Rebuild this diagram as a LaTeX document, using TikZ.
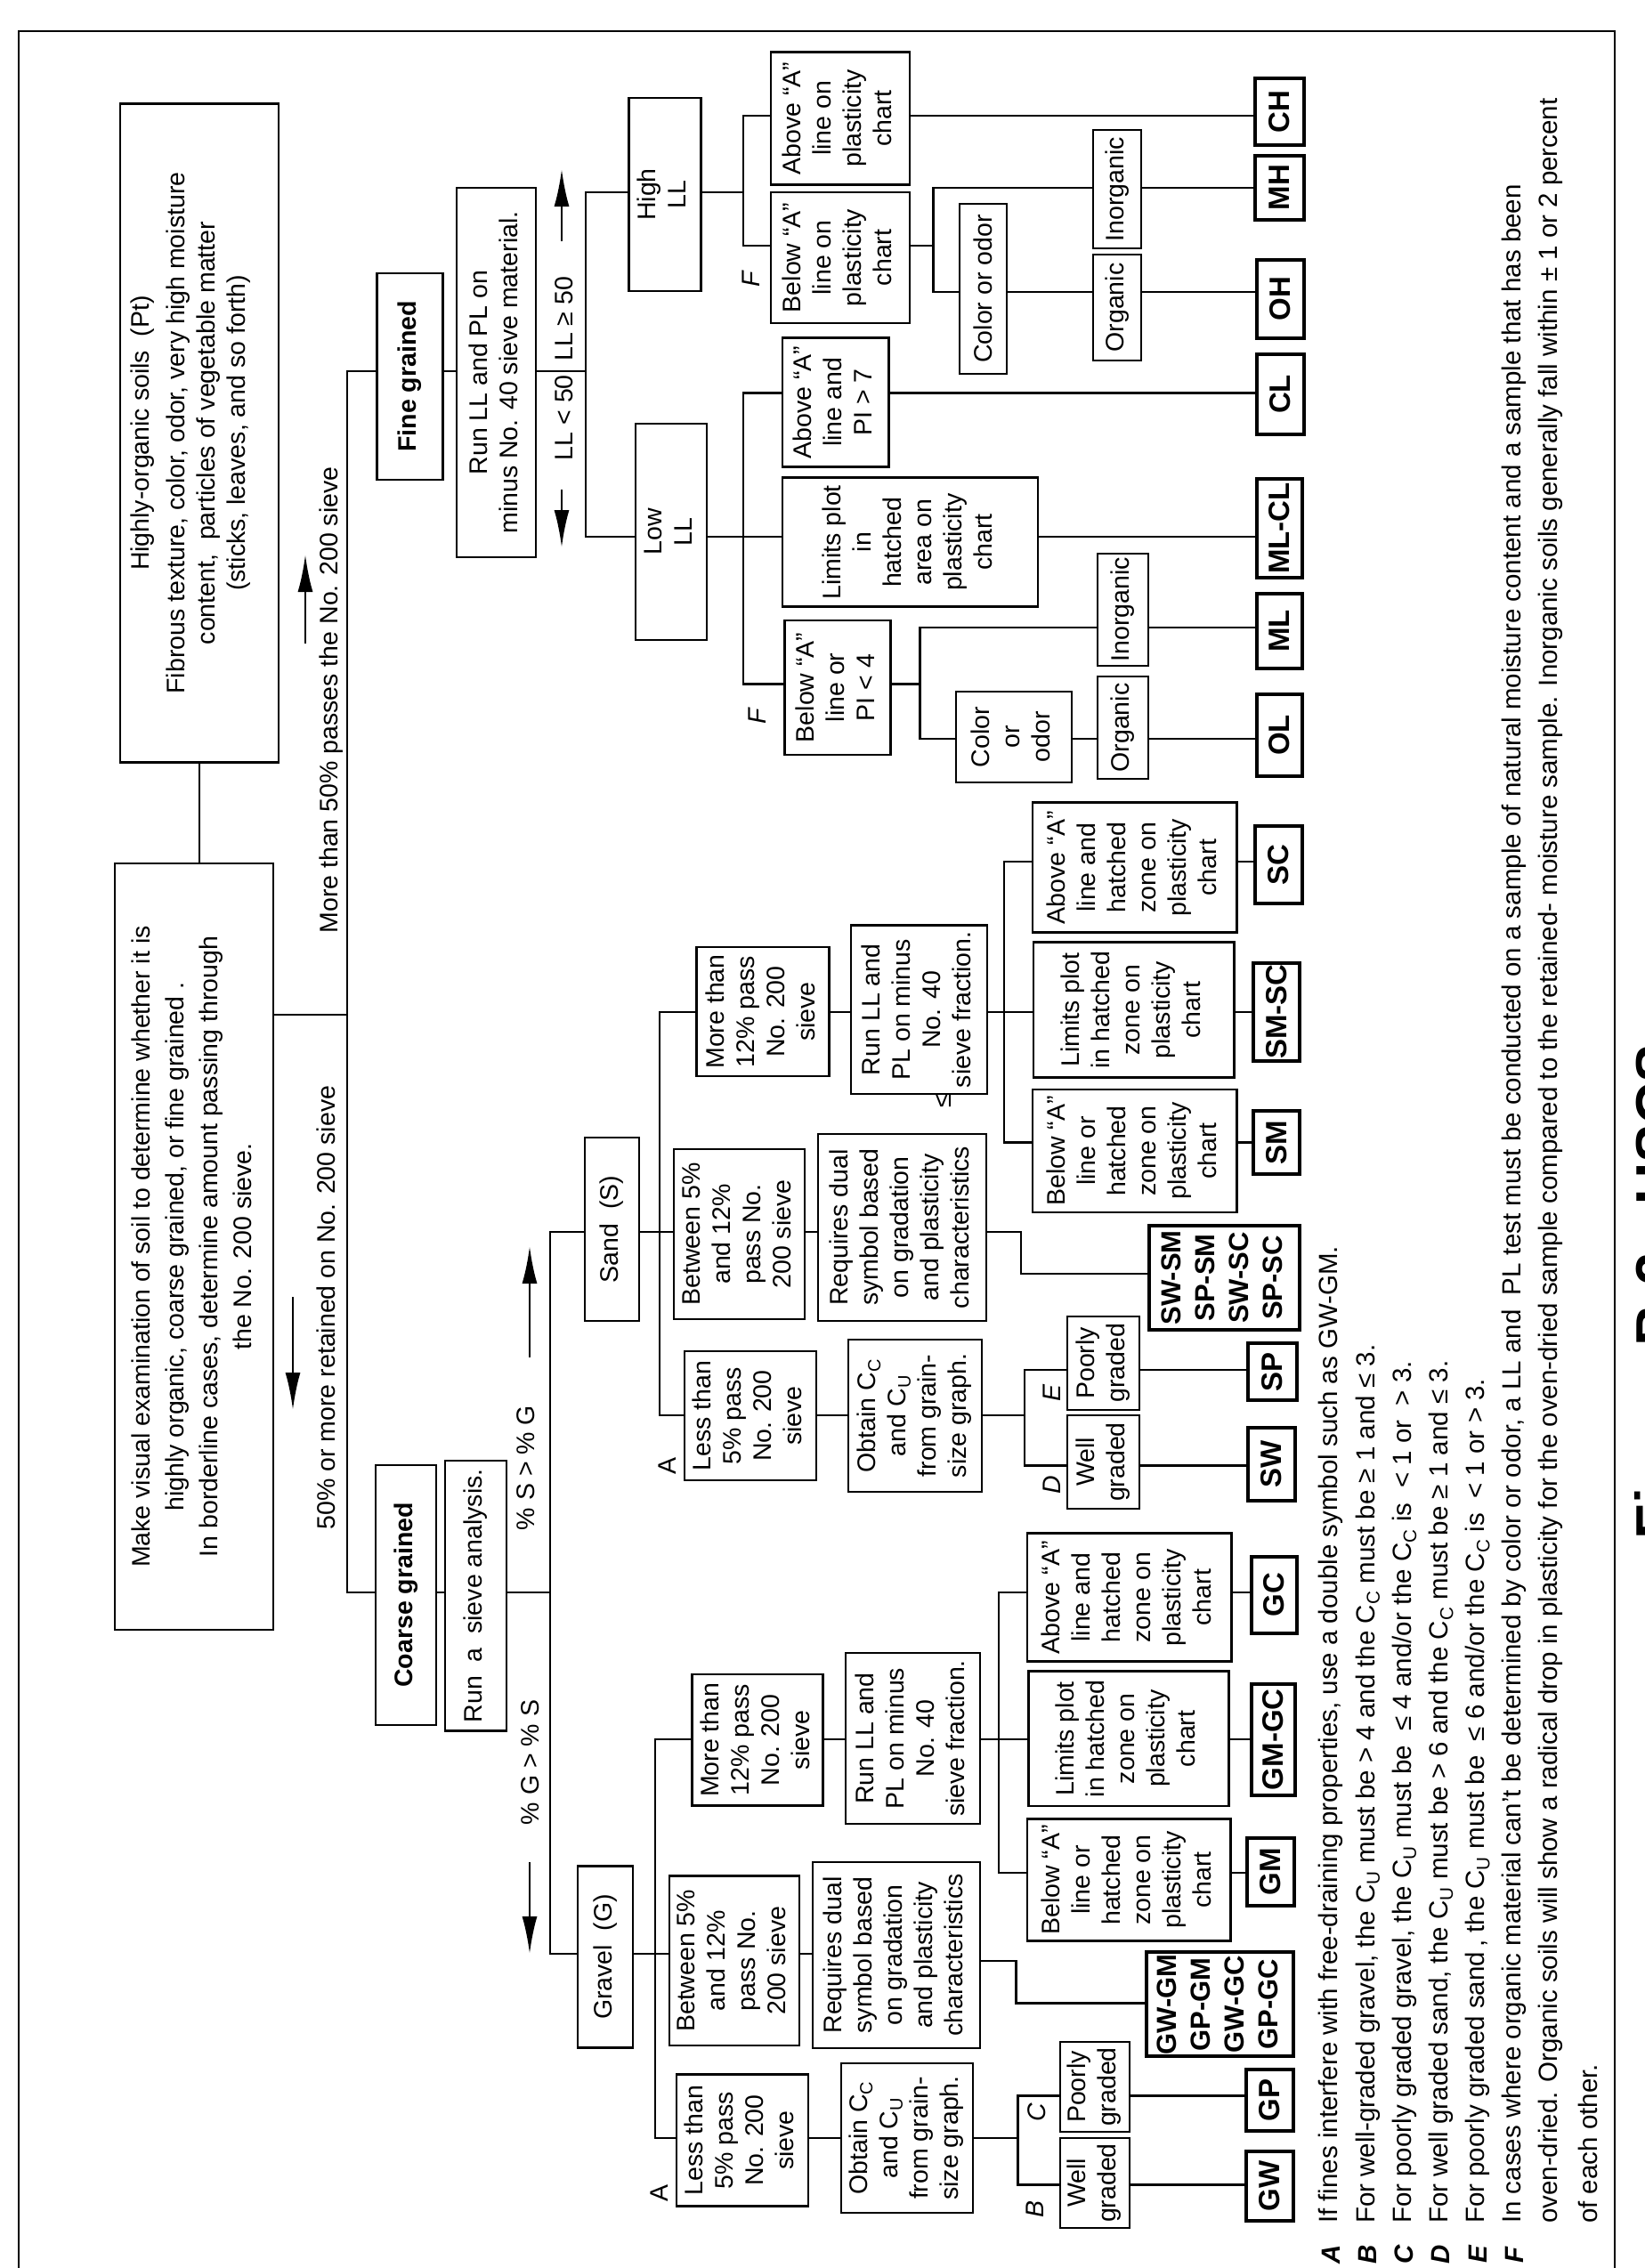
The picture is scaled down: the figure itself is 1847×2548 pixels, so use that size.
\documentclass[tikz,border=0pt]{standalone}
\usepackage{fontspec}
\setmainfont{Liberation Sans}
\usepackage{graphicx}
\usetikzlibrary{arrows.meta}
\def\rtxt#1{\rotatebox{90}{\begin{tabular}{@{}c@{}}#1\end{tabular}}}
\def\up#1{\rotatebox{90}{#1}}
\tikzset{
	box/.style={draw, line width=2.8pt, inner sep=0pt},
	sym/.style={draw, line width=4pt, inner sep=0pt, font=\fontsize{33}{36}\selectfont\bfseries},
	dual/.style={sym, font=\fontsize{31}{38}\selectfont\bfseries},
	ln/.style={line width=2.8pt},
	arr/.style={line width=2.8pt, -{Latex[length=42pt,width=17pt]}},
	lbl/.style={inner sep=0pt},
	note/.style={inner sep=0pt, anchor=south, font=\fontsize{29.5}{34}\selectfont},
}

\begin{document}
\begin{tikzpicture}[x=1pt, y=-1pt, every node/.style={font=\fontsize{28.5}{34}\selectfont}]
		%%%%% START %%%%%
		\useasboundingbox (0,0) rectangle (1847,2548);
		\draw[line width=1.8pt] (20.6,2548) -- (20.6,35) -- (1814,35) -- (1814,2548);
		
		\node[box, minimum width=178, minimum height=740] (highly) at (224,486.5) {\rtxt{Highly-organic soils\ \ (Pt)\\[6pt] Fibrous texture, color, odor, very high moisture\\content,\ \ particles of vegetable matter\\(sticks, leaves, and so forth)\\[18pt]}};
		\node[box, minimum width=178, minimum height=861, font=\fontsize{28.5}{38}\selectfont] (make) at (218,1400.5) {\rtxt{Make visual examination of soil to determine whether it is\\highly organic, coarse grained, or fine grained .\\In borderline cases, determine amount passing through\\the No. 200 sieve.}};
		
		% fine grained side
		\node[box, minimum width=74, minimum height=232] (fine) at (460.5,423) {\up{\bfseries Fine grained}};
		\node[box, minimum width=89, minimum height=415] (runfine) at (557.5,418.5) {\rtxt{Run LL and PL on\\minus No. 40 sieve material.}};
		\node[box, minimum width=81, minimum height=217] (highLL) at (747,218.5) {\rtxt{High\\LL}};
		\node[box, minimum width=80, minimum height=243] (lowLL) at (754,597.5) {\rtxt{Low\\LL}};
		
		\node[box, minimum width=156, minimum height=149] (aboveH) at (944,133) {\rtxt{Above “A”\\line on\\plasticity\\chart}};
		\node[box, minimum width=156, minimum height=147] (belowH) at (944,289.4) {\rtxt{Below “A”\\line on\\plasticity\\chart}};
		\node[box, minimum width=53, minimum height=191] (colorH) at (1104.5,324.5) {\up{Color or odor}};
		\node[box, minimum width=54, minimum height=133] (inorgH) at (1255,212.5) {\up{Inorganic}};
		\node[box, minimum width=54, minimum height=119] (orgH) at (1255,345.5) {\up{Organic}};
		\node[sym, minimum width=55, minimum height=75] (CH) at (1437.5,125.3) {\up{CH}};
		\node[sym, minimum width=55, minimum height=72] (MH) at (1437.5,210.5) {\up{MH}};
		\node[sym, minimum width=53, minimum height=88] (OH) at (1438.5,335.5) {\up{OH}};
		
		\node[box, minimum width=119.5, minimum height=145] (aboveL) at (938.75,452) {\rtxt{Above “A”\\line and\\PI > 7}};
		\node[box, minimum width=287, minimum height=145] (limitsL) at (1022.5,609.2) {\rtxt{Limits plot\\in\\hatched\\area on\\plasticity\\chart}};
		\node[box, minimum width=119, minimum height=151] (belowL) at (941.2,772.4) {\rtxt{Below “A”\\line or\\PI < 4}};
		\node[box, minimum width=130, minimum height=102] (colorL) at (1139,828) {\rtxt{Color\\or\\odor}};
		\node[box, minimum width=57, minimum height=126] (inorgL) at (1261.4,684.9) {\up{Inorganic}};
		\node[box, minimum width=57, minimum height=115] (orgL) at (1261.4,817.5) {\up{Organic}};
		\node[sym, minimum width=53, minimum height=90] (CL) at (1438.5,443) {\up{CL}};
		\node[sym, minimum width=51, minimum height=111] (MLCL) at (1437.5,593.5) {\up{ML-CL}};
		\node[sym, minimum width=51, minimum height=84] (ML) at (1437.5,708.7) {\up{ML}};
		\node[sym, minimum width=51, minimum height=92] (OL) at (1437.5,825.9) {\up{OL}};
		
		% coarse grained side
		\node[box, minimum width=68, minimum height=292] (coarse) at (456,1792) {\up{\bfseries Coarse grained}};
		\node[box, minimum width=69, minimum height=303.5] (sieve) at (534.5,1792.8) {\up{Run\ \ a\ \ sieve analysis.}};
		\node[box, minimum width=62, minimum height=204] (gravel) at (680,2198.5) {\up{Gravel\ \ (G)}};
		\node[box, minimum width=61, minimum height=206] (sand) at (687.4,1381) {\up{Sand\ \ (S)}};
		
		\node[box, minimum width=148, minimum height=148] (lessG) at (834,2404.5) {\rtxt{Less than\\5\% pass\\No. 200\\sieve}};
		\node[box, minimum width=146, minimum height=190.5] (betwG) at (825,2202.8) {\rtxt{Between 5\%\\and 12\%\\pass No.\\200 sieve}};
		\node[box, minimum width=147, minimum height=147.5] (moreG) at (851.3,1954.8) {\rtxt{More than\\12\% pass\\No. 200\\sieve}};
		\node[box, minimum width=148, minimum height=168] (obtainG) at (1019,2402) {\rtxt{Obtain C\textsubscript{C}\\and C\textsubscript{U}\\from grain-\\size graph.}};
		\node[box, minimum width=188, minimum height=209] (reqG) at (1007,2196.5) {\rtxt{Requires dual\\symbol based\\on gradation\\and plasticity\\characteristics}};
		\node[box, minimum width=151, minimum height=192] (runG) at (1025.5,1953) {\rtxt{Run LL and\\PL on minus\\No. 40\\sieve fraction.}};
		\node[box, minimum width=229.6, minimum height=144] (aboveG) at (1268.8,1794.7) {\rtxt{Above “A”\\line and\\hatched\\zone on\\plasticity\\chart}};
		\node[box, minimum width=225, minimum height=151.5] (limitsG) at (1268.1,1953.3) {\rtxt{Limits plot\\in hatched\\zone on\\plasticity\\chart}};
		\node[box, minimum width=228.5, minimum height=137] (belowG) at (1268.3,2112) {\rtxt{Below “A”\\line or\\hatched\\zone on\\plasticity\\chart}};
		\node[sym, minimum width=51, minimum height=86] (GC) at (1431.5,1791.9) {\up{GC}};
		\node[sym, minimum width=49, minimum height=124.5] (GMGC) at (1430.5,1954.3) {\up{GM-GC}};
		\node[sym, minimum width=53, minimum height=76] (GM) at (1427.5,2103) {\up{GM}};
		\node[dual, minimum width=165, minimum height=116.6] (dualG) at (1370.5,2251.7) {\rtxt{GW-GM\\GP-GM\\GW-GC\\GP-GC}};
		\node[box, minimum width=78, minimum height=101] (wellG) at (1230,2452.5) {\rtxt{Well\\graded}};
		\node[box, minimum width=78, minimum height=101] (poorG) at (1230,2344.5) {\rtxt{Poorly\\graded}};
		\node[sym, minimum width=53, minimum height=78] (GW) at (1426.5,2456) {\up{GW}};
		\node[sym, minimum width=53, minimum height=68.6] (GP) at (1426.5,2359.3) {\up{GP}};
		
		\node[box, minimum width=148, minimum height=145] (lessS) at (843,1590.5) {\rtxt{Less than\\5\% pass\\No. 200\\sieve}};
		\node[box, minimum width=147, minimum height=191] (betwS) at (830.4,1386.5) {\rtxt{Between 5\%\\and 12\%\\pass No.\\200 sieve}};
		\node[box, minimum width=149, minimum height=145] (moreS) at (857.2,1136.5) {\rtxt{More than\\12\% pass\\No. 200\\sieve}};
		\node[box, minimum width=150, minimum height=171] (obtainS) at (1027.9,1590.5) {\rtxt{Obtain C\textsubscript{C}\\and C\textsubscript{U}\\from grain-\\size graph.}};
		\node[box, minimum width=189, minimum height=210] (reqS) at (1013.5,1379) {\rtxt{Requires dual\\symbol based\\on gradation\\and plasticity\\characteristics}};
		\node[box, minimum width=153, minimum height=189.5] (runS) at (1032.5,1134.3) {\rtxt{Run LL and\\PL on minus\\No. 40\\sieve fraction.}};
		\node[box, minimum width=229.5, minimum height=146.3] (aboveS) at (1274.8,974.7) {\rtxt{Above “A”\\line and\\hatched\\zone on\\plasticity\\chart}};
		\node[box, minimum width=225.6, minimum height=151.7] (limitsS) at (1273.8,1134.6) {\rtxt{Limits plot\\in hatched\\zone on\\plasticity\\chart}};
		\node[box, minimum width=229.5, minimum height=138] (belowS) at (1274.8,1293) {\rtxt{Below “A”\\line or\\hatched\\zone on\\plasticity\\chart}};
		\node[sym, minimum width=53, minimum height=87.5] (SC) at (1436.5,971.3) {\up{SC}};
		\node[sym, minimum width=52, minimum height=109.5] (SMSC) at (1434,1136.8) {\up{SM-SC}};
		\node[sym, minimum width=52, minimum height=71] (SM) at (1434,1283.5) {\up{SM}};
		\node[dual, minimum width=169, minimum height=117] (dualS) at (1375.4,1435.5) {\rtxt{SW-SM\\SP-SM\\SW-SC\\SP-SC}};
		\node[box, minimum width=81, minimum height=105] (poorS) at (1239.5,1531.4) {\rtxt{Poorly\\graded}};
		\node[box, minimum width=81, minimum height=105] (wellS) at (1239.5,1642.5) {\rtxt{Well\\graded}};
		\node[sym, minimum width=53, minimum height=82] (SW) at (1428.4,1645) {\up{SW}};
		\node[sym, minimum width=55, minimum height=64] (SP) at (1429.2,1541) {\up{SP}};
		
		% labels on the branches
		\node[lbl] (lmore) at (372,786.5) {\up{More than 50\% passes the No. 200 sieve}};
		\node[lbl] (lless) at (366,1469) {\up{50\% or more retained on No. 200 sieve}};
		\node[lbl, anchor=north] (llow) at (634,421) {\up{LL < 50}};
		\node[lbl, anchor=south] (lhigh) at (634,406) {\up{LL ≥ 50}};
		\node[lbl] (lgs) at (596,1980) {\up{\% G > \% S}};
		\node[lbl] (lsg) at (591,1649) {\up{\% S > \% G}};
		\node[lbl] (fH) at (844,314) {\up{\itshape F}};
		\node[lbl] (fL) at (851,805) {\up{\itshape F}};
		\node[lbl] (aG) at (740.5,2464) {\up{A}};
		\node[lbl] (aS) at (750,1647) {\up{A}};
		\node[lbl] (bG) at (1163,2482) {\up{\itshape B}};
		\node[lbl] (cG) at (1165,2373.5) {\up{\itshape C}};
		\node[lbl] (dS) at (1181.7,1668) {\up{\itshape D}};
		\node[lbl] (eS) at (1181.7,1565) {\up{\itshape E}};
		\node[lbl] (leq) at (1060,1237) {\up{≤}};
		
		% arrows
		\coordinate (r1) at (343,723); \coordinate (r2) at (343,623);
		\coordinate (r3) at (329,1457); \coordinate (r4) at (329,1584);
		\coordinate (r5) at (631,550); \coordinate (r6) at (631,615);
		\coordinate (r7) at (631,271); \coordinate (r8) at (631,190);
		\coordinate (r9) at (595,2092); \coordinate (r10) at (595,2195);
		\coordinate (r11) at (595,1525); \coordinate (r12) at (595,1400);
		\draw[arr] (r1) -- (r2);
		\draw[arr] (r3) -- (r4);
		\draw[arr] (r5) -- (r6);
		\draw[arr] (r7) -- (r8);
		\draw[arr] (r9) -- (r10);
		\draw[arr] (r11) -- (r12);
		
		% trunk
		\coordinate (tA) at (390,417); \coordinate (tB) at (390,1789); \coordinate (tM) at (390,1140);
		\draw[ln] (highly.south) -- (highly.south |- make.north);
		\draw[ln] (tA -| fine.west) -- (tA) -- (tB) -- (tB -| coarse.west);
		\draw[ln] (tM -| make.east) -- (tM);
		\draw[ln] (tA -| fine.east) -- (tA -| runfine.west);
		
		% fine grained links
		\coordinate (llA) at (658,216); \coordinate (llB) at (658,603);
		\draw[ln] (tA -| runfine.east) -- (tA -| llA);
		\draw[ln] (llA -| highLL.west) -- (llA) -- (llB) -- (llB -| lowLL.west);
		\coordinate (hA) at (835,130); \coordinate (hB) at (835,276);
		\draw[ln] (llA -| highLL.east) -- (llA -| hA);
		\draw[ln] (hA -| aboveH.west) -- (hA) -- (hB) -- (hB -| belowH.west);
		\draw[ln] (hA -| aboveH.east) -- (hA -| CH.west);
		\coordinate (cA) at (1048.5,211); \coordinate (cB) at (1048.5,328);
		\draw[ln] (hB -| belowH.east) -- (hB -| cA);
		\draw[ln] (cA -| inorgH.west) -- (cA) -- (cB) -- (cB -| colorH.west);
		\draw[ln] (cB -| colorH.east) -- (cB -| orgH.west);
		\draw[ln] (cA -| inorgH.east) -- (cA -| MH.west);
		\draw[ln] (cB -| orgH.east) -- (cB -| OH.west);
		\coordinate (lA) at (835,441.7); \coordinate (lB) at (835,768.6);
		\draw[ln] (llB -| lowLL.east) -- (llB -| limitsL.west);
		\draw[ln] (lA -| aboveL.west) -- (lA) -- (lB) -- (lB -| belowL.west);
		\draw[ln] (lA -| aboveL.east) -- (lA -| CL.west);
		\draw[ln] (llB -| limitsL.east) -- (llB -| MLCL.west);
		\coordinate (oA) at (1033.5,705); \coordinate (oB) at (1033.5,830);
		\draw[ln] (lB -| belowL.east) -- (lB -| oA);
		\draw[ln] (oA -| inorgL.west) -- (oA) -- (oB) -- (oB -| colorL.west);
		\draw[ln] (oB -| colorL.east) -- (oB -| orgL.west);
		\draw[ln] (oA -| inorgL.east) -- (oA -| ML.west);
		\draw[ln] (oB -| orgL.east) -- (oB -| OL.west);
		
		% coarse grained links
		\draw[ln] (tB -| coarse.east) -- (tB -| sieve.west);
		\coordinate (cgA) at (618,1384); \coordinate (cgB) at (618,2195);
		\draw[ln] (tB -| sieve.east) -- (tB -| cgA);
		\draw[ln] (cgA -| sand.west) -- (cgA) -- (cgB) -- (cgB -| gravel.west);
		
		% gravel
		\coordinate (gA) at (736,1954); \coordinate (gB) at (736,2402);
		\draw[ln] (cgB -| gravel.east) -- (cgB -| betwG.west);
		\draw[ln] (gA -| moreG.west) -- (gA) -- (gB) -- (gB -| lessG.west);
		\draw[ln] (gB -| lessG.east) -- (gB -| obtainG.west);
		\draw[ln] (cgB -| betwG.east) -- (cgB -| reqG.west);
		\draw[ln] (gA -| moreG.east) -- (gA -| runG.west);
		\coordinate (grA) at (1122,1789); \coordinate (grB) at (1122,2104);
		\draw[ln] (gA -| runG.east) -- (gA -| limitsG.west);
		\draw[ln] (grA -| aboveG.west) -- (grA) -- (grB) -- (grB -| belowG.west);
		\draw[ln] (grA -| aboveG.east) -- (grA -| GC.west);
		\draw[ln] (gA -| limitsG.east) -- (gA -| GMGC.west);
		\draw[ln] (grB -| belowG.east) -- (grB -| GM.west);
		\coordinate (gdA) at (1141.4,2203); \coordinate (gdB) at (1141.4,2250.7);
		\draw[ln] (gdA -| reqG.east) -- (gdA) -- (gdB) -- (gdB -| dualG.west);
		\coordinate (gwA) at (1143.7,2354.6); \coordinate (gwB) at (1143.7,2454.7);
		\draw[ln] (gB -| obtainG.east) -- (gB -| gwA);
		\draw[ln] (gwA -| poorG.west) -- (gwA) -- (gwB) -- (gwB -| wellG.west);
		\draw[ln] (gwA -| poorG.east) -- (gwA -| GP.west);
		\draw[ln] (gwB -| wellG.east) -- (gwB -| GW.west);
		
		% sand
		\coordinate (sA) at (741,1137); \coordinate (sB) at (741,1590);
		\draw[ln] (cgA -| sand.east) -- (cgA -| betwS.west);
		\draw[ln] (sA -| moreS.west) -- (sA) -- (sB) -- (sB -| lessS.west);
		\draw[ln] (sB -| lessS.east) -- (sB -| obtainS.west);
		\draw[ln] (cgA -| betwS.east) -- (cgA -| reqS.west);
		\draw[ln] (sA -| moreS.east) -- (sA -| runS.west);
		\coordinate (srA) at (1128,968); \coordinate (srB) at (1128,1283.6);
		\draw[ln] (sA -| runS.east) -- (sA -| limitsS.west);
		\draw[ln] (srA -| aboveS.west) -- (srA) -- (srB) -- (srB -| belowS.west);
		\draw[ln] (srA -| aboveS.east) -- (srA -| SC.west);
		\draw[ln] (sA -| limitsS.east) -- (sA -| SMSC.west);
		\draw[ln] (srB -| belowS.east) -- (srB -| SM.west);
		\coordinate (sdA) at (1147,1384); \coordinate (sdB) at (1147,1431);
		\draw[ln] (sdA -| reqS.east) -- (sdA) -- (sdB) -- (sdB -| dualS.west);
		\coordinate (swA) at (1151,1539); \coordinate (swB) at (1151,1646.7);
		\draw[ln] (sB -| obtainS.east) -- (sB -| swA);
		\draw[ln] (swA -| poorS.west) -- (swA) -- (swB) -- (swB -| wellS.west);
		\draw[ln] (swA -| poorS.east) -- (swA -| SP.west);
		\draw[ln] (swB -| wellS.east) -- (swB -| SW.west);
		
		% notes
		\foreach \k/\x in {A/1495, B/1536.5, C/1577.7, D/1618.8, E/1660, F/1701}
			\node[lbl, font=\fontsize{29.5}{34}\selectfont] (key\k) at (\x,2533) {\up{\bfseries\itshape \k}};
		\node[note] (nA) at (1495,2498) {\up{If fines interfere with free-draining properties,\ use\ a\ double symbol such as GW-GM.}};
		\node[note] (nB) at (1536.5,2498) {\up{For well-graded gravel, the C\textsubscript{U} must be > 4 and the C\textsubscript{C} must be ≥ 1 and ≤ 3.}};
		\node[note] (nC) at (1577.7,2498) {\up{For poorly graded gravel, the C\textsubscript{U} must be\ \ ≤ 4 and/or the C\textsubscript{C} is\ \ < 1 or\ \ > 3.}};
		\node[note] (nD) at (1618.8,2498) {\up{For well graded sand,\ the C\textsubscript{U} must be > 6 and the C\textsubscript{C} must be ≥ 1 and ≤ 3.}};
		\node[note] (nE) at (1660,2498) {\up{For poorly graded sand\,,\ the C\textsubscript{U} must be\ \ ≤ 6 and/or the C\textsubscript{C} is\ \ < 1 or > 3.}};
		\node[note] (nF) at (1701,2498) {\up{In cases where organic material can't be determined by color or odor, a LL and\ \ PL test must be conducted on a sample of natural moisture content and a sample that has been}};
		\node[note] (nF2) at (1742.3,2498) {\up{oven-dried. Organic soils will show a radical drop in plasticity for the oven-dried sample compared to the retained- moisture sample. Inorganic soils generally fall within ± 1 or 2 percent}};
		\node[note] (nF3) at (1783.5,2498) {\up{of each other.}};
		
		\begin{scope}
			\clip (0,0) rectangle (1847,2548);
			\node[lbl, anchor=west, font=\fontsize{65}{70}\selectfont\bfseries] (title) at (1836,1451) {\up{Figure B-3.\ \ USCS}};
		\end{scope}
		%%%%% END %%%%%
	\end{tikzpicture}
\end{document}
